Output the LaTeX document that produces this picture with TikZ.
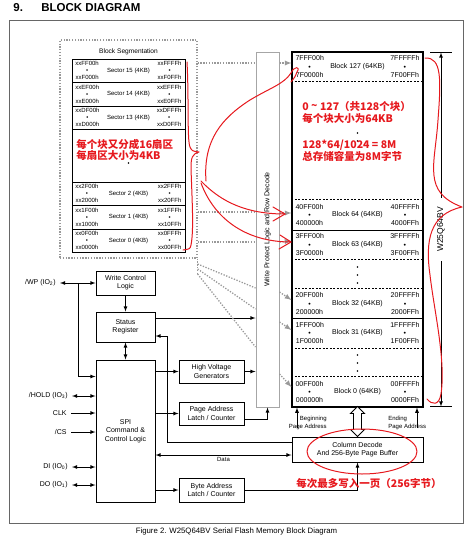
\documentclass[tikz,border=0pt]{standalone}
\usepackage{fontspec}
\setmainfont{Liberation Sans}
\newfontfamily\cjk{Noto Sans CJK SC}
\definecolor{redpen}{RGB}{230,25,30}
\newcommand{\fsz}[2]{\fontsize{#1}{#2}\selectfont}

\begin{document}
\begin{tikzpicture}[x=1pt,y=-1pt,>=latex,thick,
  frame box/.style={draw=black!60,line width=0.8pt,minimum width=454,minimum height=503,inner sep=0pt},
  logic box/.style={draw,line width=1pt,align=center,inner sep=0pt,font=\fsz{7}{8.3}},
  sector box/.style={draw,line width=0.9pt,minimum width=113,minimum height=23.5,inner sep=0pt,font=\fsz{6}{7}},
  addr/.style={align=center,inner xsep=3.5pt,inner ysep=0pt,font=\fsz{6}{7}},
  block box/.style={minimum width=131,minimum height=29.5,inner sep=0pt,font=\fsz{7}{8.3}},
  block addr/.style={align=center,inner xsep=3.5pt,inner ysep=0pt,font=\fsz{7}{8.3}},
  sep dashed/.style={line width=0.8pt,dash pattern=on 2pt off 1.5pt},
  gray dots/.style={draw=gray!80,line width=1.3pt,dash pattern=on 1.3pt off 1.5pt},
  gray arrow/.style={gray dots,->},
  pin label/.style={anchor=east,inner xsep=4pt,inner ysep=0pt,font=\fsz{7}{8.3}},
  small label/.style={font=\fsz{6}{7.5},inner sep=0pt},
  red pen/.style={draw=redpen,line width=1pt,line cap=round,line join=round},
  red note/.style={text=redpen,font=\cjk\bfseries\fsz{10.5}{11.8},align=left,inner sep=0pt,anchor=west}]

  \useasboundingbox (0,0) rectangle (474,538);
  \node[frame box] (frame) at (236,271.5) {};
  \node[anchor=base west,inner sep=0pt,font=\bfseries\fsz{11.5}{13}] (title) at (13,11) {9.\hspace{18.4pt}BLOCK DIAGRAM};
  \node[font=\fsz{7.8}{9}] (caption) at (236.5,531) {Figure 2. W25Q64BV Serial Flash Memory Block Diagram};

  \node[gray dots,minimum width=137,minimum height=218,inner sep=0pt] (seg) at (128.5,149) {};
  \node[font=\fsz{6.6}{8},inner sep=0pt] (seg title) at (128.5,52) {Block Segmentation};
  \foreach \n/\h/\y in {15/F/70.75,14/E/94.25,13/D/117.75,2/2/193.75,1/1/217.25,0/0/240.75} {
    \node[sector box] (sec\n) at (128.5,\y) {Sector \n\ (4KB)};
    \node[addr,anchor=west] at (sec\n.west) {xx\h F00h\\•\\xx\h 000h};
    \node[addr,anchor=east] at (sec\n.east) {xx\h FFFh\\•\\xx\h 0FFh};
  }
  \node[sector box,minimum height=52.5] (sec gap) at (128.5,155.75) {};
  \fill (128.5,163) circle (0.9pt);

  \node[draw,line width=1.1pt,minimum width=131,minimum height=355,inner sep=0pt] (mem) at (357.5,229.5) {};
  \foreach \n/\h/\y in {127/7F/66.5,64/40/215,63/3F/244.5,32/20/303.5,31/1F/333,0/00/392} {
    \node[block box] (b\n) at (357.5,\y) {Block \n\ (64KB)};
    \node[block addr,anchor=west] at (b\n.west) {\h FF00h\\•\\\h 0000h};
    \node[block addr,anchor=east] at (b\n.east) {\h FFFFh\\•\\\h 00FFh};
  }
  \foreach \a in {b127.south,b64.north,b63.south,b32.north,b31.south,b0.north}
    \draw[sep dashed] (\a -| mem.west) -- (\a -| mem.east);
  \draw[line width=0.9pt] (b64.south -| mem.west) -- (b64.south -| mem.east);
  \draw[line width=0.9pt] (b32.south -| mem.west) -- (b32.south -| mem.east);
  \foreach \y in {133,141,267,275,283,355,363,371}
    \fill (357.5,\y) circle (0.9pt);

  \node[draw=gray!70,line width=1pt,fill=white,minimum width=23,minimum height=355,inner sep=0pt] (wp) at (267.5,229.5) {};
  \node[rotate=90,font=\fsz{7}{8}] (wp text) at (wp.center) {Write Protect Logic and Row Decode};

  \coordinate (chip top) at (441,52.5);
  \coordinate (chip bot) at (441,406.5);
  \node[rotate=90,font=\fsz{8.5}{10},inner xsep=9pt] (chip) at (441,229.5) {W25Q64BV};
  \draw[->] (chip.east) -- (chip top);
  \draw[->] (chip.west) -- (chip bot);
  \draw ([xshift=-11pt]chip top) -- ([xshift=11pt]chip top);
  \draw ([xshift=-11pt]chip bot) -- ([xshift=11pt]chip bot);

  \node[logic box,minimum width=59,minimum height=24] (wcl) at (125.5,283) {Write Control\\Logic};
  \node[logic box,minimum width=59,minimum height=30] (status) at (125.5,327) {Status\\Register};
  \node[logic box,minimum width=59,minimum height=142] (spi) at (125.5,431) {SPI\\Command \&\\Control Logic};
  \node[logic box,minimum width=65,minimum height=23] (hvg) at (211.5,371.5) {High Voltage\\Generators};
  \node[logic box,minimum width=65,minimum height=23] (palc) at (211.5,413.5) {Page Address\\Latch / Counter};
  \node[logic box,minimum width=65,minimum height=24] (balc) at (211.5,490) {Byte Address\\Latch / Counter};
  \node[logic box,minimum width=131,minimum height=25] (coldec) at (357.5,449.5) {Column Decode\\And 256-Byte Page Buffer};

  \node[pin label] (wp pin) at (60,283) {/WP (IO\textsubscript{2})};
  \node[pin label] (hold pin) at (72,396) {/HOLD (IO\textsubscript{3})};
  \node[pin label] (clk pin) at (71,413) {CLK};
  \node[pin label] (cs pin) at (71,432) {/CS};
  \node[pin label] (di pin) at (72,467) {DI (IO\textsubscript{0})};
  \node[pin label] (do pin) at (72,485) {DO (IO\textsubscript{1})};

  \draw[<->] (wp pin.east) -- (wcl.west);
  \coordinate (wp fork) at (78,283);
  \draw[->] (wp fork) |- ([yshift=-17pt]spi.north west);
  \draw[<->] (hold pin.east) -- (hold pin.east -| spi.west);
  \draw[->] (clk pin.east) -- (clk pin.east -| spi.west);
  \draw[->] (cs pin.east) -- (cs pin.east -| spi.west);
  \draw[<->] (di pin.east) -- (di pin.east -| spi.west);
  \draw[<->] (do pin.east) -- (do pin.east -| spi.west);

  \draw[->] (wcl) -- (status);
  \draw[<->] (status) -- (spi);
  \draw[->] (spi.east |- hvg.west) -- (hvg.west);
  \draw[->] (spi.east |- palc.west) -- (palc.west);
  \draw[->] (spi.east |- balc.west) -- (balc.west);
  \draw[->] (hvg.east) -- (hvg.east -| wp.west);
  \coordinate (pa out) at ([yshift=-5.5pt]palc.east);
  \draw[->] (pa out) -| (wp.south);
  \draw[->] (balc.east) -| (coldec.south);
  \coordinate (data in) at ([yshift=-5.5pt]coldec.west);
  \draw[<->] (data in -| spi.east) -- node[small label,below,inner sep=2pt] {Data} (data in);
  \coordinate (sr out) at ([yshift=9pt]status.east);
  \draw[->] (sr out) -- (sr out -| wp.west);
  \coordinate (sr in) at ([yshift=-9pt]status.east);
  \coordinate (cd out) at ([yshift=7.5pt]coldec.west);
  \draw[->] (cd out) -| ([xshift=12pt]sr in) -- (sr in);

  \coordinate (beg foot) at (297,428);
  \coordinate (end foot) at (417,428);
  \draw[->] (beg foot) -- (beg foot |- mem.south);
  \draw[->] (end foot) -- (end foot |- mem.south);
  \node[small label,align=right,anchor=east] (beg lbl) at (327,423) {Beginning\\Page Address};
  \node[small label,align=left,anchor=west] (end lbl) at (388,423) {Ending\\Page Address};
  \draw[line width=0.9pt,fill=white] (coldec.north) -- ++(7,-7) -- ++(-3,0) -- ++(0,-16) -- ++(3,0) -- ++(-7,-7) -- ++(-7,7) -- ++(3,0) -- ++(0,16) -- ++(-3,0) -- cycle;

  \foreach \y in {63,212,242}
    \draw[gray dots] (seg.east |- 0,\y) -- (wp.west |- 0,\y);
  \foreach \a/\b in {63/63,213/213,242/241}
    \draw[gray arrow] (wp.east |- 0,\a) -- (mem.west |- 0,\b);
  \draw[gray dots] (seg.south east) -- (seg.east |- 0,274);
  \foreach \a/\b in {264/288,269/309,274/347}
    \draw[gray dots] (seg.east |- 0,\a) -- (wp.west |- 0,\b);
  \foreach \a/\b in {292/300,322/330,374/387}
    \draw[gray arrow] (wp.east |- 0,\a) -- (mem.west |- 0,\b);

  \node[red note] (seg note) at (76,150) {每个块又分成16扇区\\每扇区大小为4KB};
  \node[red note] (mem note a) at (302,112.5) {0 \raisebox{1.5pt}{\textasciitilde} 127（共128个块）\\每个块大小为64KB};
  \node[red note] (mem note b) at (302,151) {128*64/1024 = 8M\\总存储容量为8M字节};
  \node[red note] (page note) at (296,484) {每次最多写入一页（256字节）};

  \draw[red pen] (187,62) .. controls (189,100) and (187,140) .. (190,147) .. controls (192,151) .. (199,152) .. controls (192,154) and (191,158) .. (191,168) .. controls (192,200) and (194,230) .. (191,245) .. controls (190,249) .. (183,250);
  \draw[red pen] (206,181) .. controls (203,140) and (222,118) .. (250,100) .. controls (270,88) and (284,84) .. (291,73) .. controls (294,66) and (301,66) .. (297,72) .. controls (295,77) .. (291,82);
  \draw[red pen] (201,181) .. controls (222,203) and (248,214) .. (285,214);
  \draw[red pen] (273,207) -- (285,214) -- (273,221);
  \draw[red pen] (201,183) .. controls (214,218) and (245,242) .. (291,242);
  \draw[red pen] (280,235) -- (291,242) -- (279,249);
  \draw[red pen] (425,58) .. controls (442,57) and (441,80) .. (438,120) .. controls (435,165) and (422,192) .. (462,207) .. controls (430,214) and (425,240) .. (430,275) .. controls (434,310) and (446,360) .. (441,394) .. controls (439,406) and (432,405) .. (427,399);
  \draw[red pen] (362,451.5) ellipse [x radius=55pt,y radius=22.5pt];

\end{tikzpicture}
\end{document}
